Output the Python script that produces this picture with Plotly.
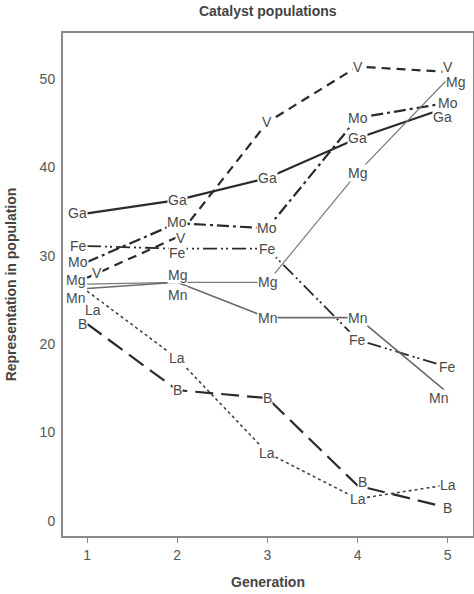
import plotly.graph_objects as go

generations = [1, 2, 3, 4, 5]

ga = [34.8, 36.3, 38.8, 43.3, 46.8]
mo = [29.3, 33.7, 33.1, 45.6, 47.3]
v = [27.5, 32.1, 45.1, 51.4, 50.8]
fe = [31.1, 30.8, 30.8, 20.5, 17.4]
mg = [26.8, 27.0, 27.0, 39.4, 50.0]
mn = [26.3, 27.0, 23.0, 23.0, 14.5]
la = [26.0, 18.4, 7.7, 2.5, 4.1]
b = [22.3, 14.8, 13.9, 4.0, 1.5]

y_ticks = [0, 10, 20, 30, 40, 50]

series = {"Ga": ga, "Mo": mo, "V": v, "Fe": fe, "Mg": mg, "Mn": mn, "La": la, "B": b}

# line look per catalyst
styles = {
    "Ga": dict(color="#2b2b2b", width=2.2, dash="solid"),
    "Mo": dict(color="#2b2b2b", width=2.2, dash="12px,4px,3px,4px"),
    "V": dict(color="#2b2b2b", width=2.2, dash="9px,6px"),
    "Fe": dict(color="#2b2b2b", width=1.8, dash="14px,4px,2px,3px,2px,4px"),
    "Mg": dict(color="#7a7a7a", width=1.2, dash="solid"),
    "Mn": dict(color="#6a6a6a", width=1.6, dash="solid"),
    "La": dict(color="#444444", width=1.6, dash="dot"),
    "B": dict(color="#2b2b2b", width=2.2, dash="18px,8px"),
}

# label nudges in pixels (dx, dy) so crowded labels stay readable
nudges = {
    ("Ga", 1): (-10, 0), ("Fe", 1): (-9, 0), ("Mo", 1): (-9, 0),
    ("Mg", 1): (-12, 4), ("V", 1): (10, 5), ("Mn", 1): (-12, -10),
    ("La", 1): (6, -19), ("B", 1): (-5, 0),
    ("Mg", 2): (0, 7), ("Mn", 2): (0, -13), ("Fe", 2): (0, -4),
    ("V", 2): (4, -1), ("Mo", 2): (0, 1),
    ("B", 4): (5, 4),
    ("Ga", 5): (-5, -10), ("Mg", 5): (8, -3), ("V", 5): (0, 5),
    ("Mn", 5): (-9, -5),
}

fig = go.Figure()
for name, vals in series.items():
    fig.add_trace(go.Scatter(x=generations, y=vals, mode="lines", name=name,
                             line=styles[name], showlegend=False, hoverinfo="skip"))

annotations = []
for name, vals in series.items():
    for g, val in zip(generations, vals):
        dx, dy = nudges.get((name, g), (0, 0))
        annotations.append(dict(x=g, y=val, xref="x", yref="y", text=name,
                                showarrow=False, xshift=dx, yshift=dy,
                                bgcolor="white", borderpad=0,
                                font=dict(size=14, color="#4a4a4a")))

fig.update_layout(
    width=474, height=594,
    margin=dict(l=63, r=1, t=33, b=58, autoexpand=False),
    paper_bgcolor="white", plot_bgcolor="white",
    font=dict(family="Liberation Sans, Arial, sans-serif", color="#555555"),
    title=dict(text="<b>Catalyst populations</b>", x=0.565, xanchor="center",
               y=0.982, yanchor="middle", font=dict(size=14, color="#444444")),
    annotations=annotations,
)
fig.update_xaxes(range=[0.733, 5.28], tickvals=generations, showgrid=False, zeroline=False,
                 showline=True, mirror=True, linecolor="#8a8a8a", linewidth=2,
                 ticks="outside", ticklen=5, tickcolor="#8a8a8a",
                 tickfont=dict(size=14, color="#555555"),
                 title=dict(text="<b>Generation</b>", font=dict(size=14, color="#444444"), standoff=15))
fig.update_yaxes(range=[-1.7, 55.2], tickvals=y_ticks, showgrid=False, zeroline=False,
                 showline=True, mirror=True, linecolor="#8a8a8a", linewidth=2,
                 ticks="", ticklabelstandoff=3, tickfont=dict(size=14, color="#555555"),
                 title=dict(text="<b>Representation in population</b>",
                            font=dict(size=14, color="#444444"), standoff=20))

fig.write_html("out.html", config={"displayModeBar": False},
               post_script="document.body.style.margin='0px';")
